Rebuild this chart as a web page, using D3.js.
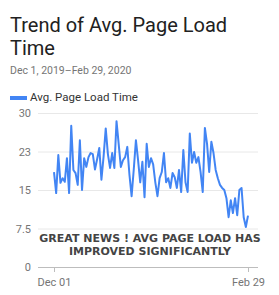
<!DOCTYPE html>
<html>
<head>
<meta charset="utf-8">
<script src="https://cdn.jsdelivr.net/npm/d3@7"></script>
<style>
  body { margin: 0; background: #fff; }
  text { font-family: Roboto, "Noto Sans", sans-serif; }
</style>
</head>
<body>
<svg id="chart"></svg>
<script>
// daily values, Dec 1 2019 .. Feb 29 2020
let loadTimes = [
  18.5, 14.4, 21.8, 16.4, 17.3, 16.6, 21.2, 14.4, 27.5, 18.9,
  18.3, 16.0, 24.7, 15.0, 21.2, 19.5, 21.4, 22.2, 22.0, 19.0,
  21.0, 23.2, 17.0, 21.5, 27.0, 22.0, 19.3, 22.2, 19.3, 28.4,
  24.0, 19.5, 20.8, 21.4, 23.4, 18.0, 13.8, 19.0, 24.7, 20.8,
  16.5, 20.5, 13.6, 24.0, 19.5, 21.2, 20.0, 16.5, 13.8, 17.3,
  18.5, 22.2, 16.5, 17.3, 15.4, 18.3, 17.5, 15.4, 18.9, 14.6,
  22.8, 16.5, 14.6, 26.0, 20.3, 22.4, 20.3, 21.4, 18.5, 14.6,
  27.1, 24.0, 18.5, 24.4, 22.2, 18.9, 17.3, 16.0, 15.4, 15.0,
  13.4, 9.7, 13.0, 10.5, 13.4, 10.1, 15.0, 15.4, 9.7, 7.8, 10.0
];
let yTicks = [0, 7.5, 15, 22.5, 30];
let yTickLabels = ["0", "7.5", "15", "23", "30"];
let xTickLabels = ["Dec 01", "Feb 29"];
let seriesName = "Avg. Page Load Time";
let title = ["Trend of Avg. Page Load", "Time"];
let subtitle = "Dec 1, 2019\u2013Feb 29, 2020";
let note = ["GREAT NEWS ! AVG PAGE LOAD HAS", "IMPROVED SIGNIFICANTLY"];

let startDay = new Date(2019, 11, 1);
let days = loadTimes.map((v, i) => ({ date: d3.timeDay.offset(startDay, i), value: v }));

let width = 279, height = 295;
let svg = d3.select("#chart").attr("width", width).attr("height", height);

// title block
svg.selectAll(".title").data(title).enter().append("text")
  .attr("x", 10).attr("y", (d, i) => 32 + i * 23)
  .attr("font-size", 20).attr("fill", "#212121")
  .text(d => d);
svg.append("text").attr("x", 10).attr("y", 74)
  .attr("font-size", 10.5).attr("fill", "#757575").text(subtitle);

// legend
svg.append("rect").attr("x", 10).attr("y", 96).attr("width", 17).attr("height", 4).attr("fill", "#4285f4");
svg.append("text").attr("x", 30).attr("y", 101).attr("font-size", 11.5).attr("fill", "#333").text(seriesName);

// scales
let x = d3.scaleTime().domain(d3.extent(days, d => d.date)).range([54, 248]);
let y = d3.scaleLinear().domain([0, 30]).range([267, 113]);

// gridlines + y labels
let yAxis = svg.append("g").attr("transform", "translate(38,0)")
  .call(d3.axisLeft(y).tickValues(yTicks).tickSize(-220).tickFormat((d, i) => yTickLabels[i]));
yAxis.select(".domain").remove();
yAxis.selectAll(".tick line").attr("stroke", (d) => d === 0 ? "#bdbdbd" : "#e8e8e8");
yAxis.selectAll(".tick text").attr("x", -7).attr("font-size", 11).attr("fill", "#757575")
  .attr("font-family", "Roboto");

// x axis
let xAxis = svg.append("g").attr("transform", "translate(0,267)")
  .call(d3.axisBottom(x).tickValues(d3.extent(days, d => d.date)).tickSize(5)
    .tickFormat((d, i) => xTickLabels[i]));
xAxis.select(".domain").remove();
xAxis.selectAll(".tick line").attr("stroke", "#bdbdbd");
xAxis.selectAll(".tick text").attr("y", 11).attr("font-size", 11).attr("fill", "#757575")
  .attr("font-family", "Roboto");

// line
let line = d3.line().x(d => x(d.date)).y(d => y(d.value));
svg.append("path").datum(days).attr("d", line)
  .attr("fill", "none").attr("stroke", "#4285f4").attr("stroke-width", 2)
  .attr("stroke-linejoin", "round");

// annotation
svg.selectAll(".note").data(note).enter().append("text")
  .attr("x", 150).attr("y", (d, i) => 242 + i * 12.5)
  .attr("text-anchor", "middle")
  .style("font-family", "'DejaVu Sans', Verdana, sans-serif").style("font-weight", "bold")
  .attr("font-size", 11).attr("fill", "#444").text(d => d);
</script>
</body>
</html>
